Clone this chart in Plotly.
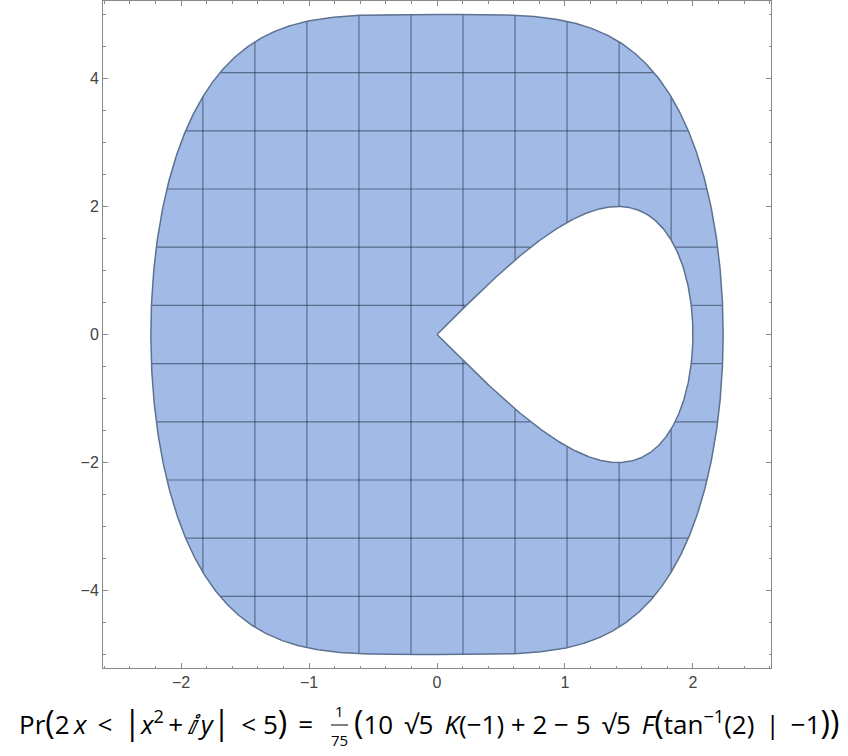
import numpy as np
import plotly.graph_objects as go

# ---- data describing the region  2x < |x^2 + i y| < 5 ----
outer_bound = [5.0]          # |x^2 + i y| < 5
inner_factor = [2.0]         # 2 x < |x^2 + i y|
mesh_divisions = [11]        # mesh cells across bounding box
x_ticks = [-2, -1, 0, 1, 2]
x_tick_text = ["−2", "−1", "0", "1", "2"]
y_ticks = [-4, -2, 0, 2, 4]
y_tick_text = ["−4", "−2", "0", "2", "4"]
x_range = [-2.61, 2.61]
y_range = [-5.21, 5.21]
S = "\u2009"
BIG = "<span style='font-size:32px'>%s</span>"
title_left = ("Pr" + BIG % "(" + "2" + S + "<i>x</i>" + S + " < " + S
              + BIG % "|" + "<i>x</i><sup>2</sup>" + S + "+" + S + "<i>ⅈ</i>" + S + "<i>y</i>"
              + BIG % "|" + S + " < 5" + BIG % ")" + S + " =")
title_num = "1"
title_den = "75"
title_right = (BIG % "(" + "10 " + S + "√5 " + S + "<i>K</i>(−1) + 2 − 5 " + S + "√5 " + S
               + "<i>F</i>" + BIG % "(" + "tan<sup>−1</sup>(2)" + S + " | " + S
               + "−1" + BIG % "))")

R = outer_bound[0]
c = inner_factor[0]

# outer boundary x^4 + y^2 = R^2
t = np.linspace(0, 2 * np.pi, 1201)
ox = np.sign(np.cos(t)) * np.sqrt(R * np.abs(np.cos(t)))
oy = R * np.sin(t)
# inner boundary x^4 + y^2 = c^2 x^2
u = np.linspace(-np.pi / 2, np.pi / 2, 801)
ix = c * np.cos(u)
iy = (c * c / 2) * np.sin(2 * u)

fill_col = "#a1bbe6"
edge_col = "#5d7191"
mesh_col = "rgba(20,30,50,0.5)"

def path_of(xs, ys):
    pts = ["%.5f,%.5f" % (a, b) for a, b in zip(xs, ys)]
    return "M" + "L".join(pts) + "Z"

fig = go.Figure()
fig.add_shape(type="path", xref="x", yref="y",
              path=path_of(ox, oy) + " " + path_of(ix, iy[::-1]),
              fillcolor=fill_col, line=dict(width=0), layer="below",
              fillrule="evenodd")

# mesh lines
xmax = np.sqrt(R)
xm = np.linspace(-xmax, xmax, mesh_divisions[0] + 1)[1:-1]
ym = np.linspace(-R, R, mesh_divisions[0] + 1)[1:-1]
mx, my = [], []
for xv in xm:
    top = np.sqrt(R * R - xv ** 4)
    if 0 < xv < c:
        h = xv * np.sqrt(c * c - xv * xv)
        mx += [xv, xv, None, xv, xv, None]
        my += [-top, -h, None, h, top, None]
    else:
        mx += [xv, xv, None]
        my += [-top, top, None]
for yv in ym:
    xe = (R * R - yv * yv) ** 0.25
    if abs(yv) < c * c / 2:
        d = np.sqrt(c ** 4 / 4 - yv * yv)
        a1 = np.sqrt(c * c / 2 - d)
        a2 = np.sqrt(c * c / 2 + d)
        mx += [-xe, a1, None, a2, xe, None]
        my += [yv, yv, None, yv, yv, None]
    else:
        mx += [-xe, xe, None]
        my += [yv, yv, None]
fig.add_trace(go.Scatter(x=mx, y=my, mode="lines",
                         line=dict(color=mesh_col, width=1.2),
                         hoverinfo="skip", showlegend=False))

# boundaries
fig.add_trace(go.Scatter(x=list(ox) + [None] + list(ix), y=list(oy) + [None] + list(iy),
                         mode="lines", line=dict(color=edge_col, width=1.5),
                         hoverinfo="skip", showlegend=False))

axis_common = dict(showgrid=False, zeroline=False, showline=True, linecolor="#888888",
                   linewidth=1, mirror="allticks", ticks="inside", ticklen=5,
                   tickcolor="#888888", tickfont=dict(family="Liberation Sans", size=16, color="#444444"))
fig.update_xaxes(range=x_range, tickvals=x_ticks, ticktext=x_tick_text,
                 minor=dict(dtick=0.2, tick0=0, ticks="inside", ticklen=2.5, tickcolor="#888888"),
                 **axis_common)
fig.update_yaxes(range=y_range, tickvals=y_ticks, ticktext=y_tick_text,
                 minor=dict(dtick=0.5, tick0=0, ticks="inside", ticklen=2.5, tickcolor="#888888"),
                 **axis_common)

L, Rm, T, B = 103, 77, 1, 88
W, H = 848, 756
pw, ph = W - L - Rm, H - T - B

def px(p):
    return (p - L) / pw

def py(p):
    return (H - B - p) / ph

tf = dict(family="Open Sans", size=26, color="#000000")
fig.add_annotation(text=title_left, xref="paper", yref="paper", x=px(315), y=py(721),
                   xanchor="right", yanchor="middle", showarrow=False, font=tf)
fig.add_annotation(text=title_num, xref="paper", yref="paper", x=px(339), y=py(711),
                   xanchor="center", yanchor="middle", showarrow=False,
                   font=dict(family="Open Sans", size=15, color="#000"))
fig.add_annotation(text=title_den, xref="paper", yref="paper", x=px(339), y=py(740),
                   xanchor="center", yanchor="middle", showarrow=False,
                   font=dict(family="Open Sans", size=15, color="#000"))
fig.add_shape(type="line", xref="paper", yref="paper", x0=px(331), x1=px(348),
              y0=py(725), y1=py(725), line=dict(color="#000", width=1))
fig.add_annotation(text=title_right, xref="paper", yref="paper", x=px(352), y=py(721),
                   xanchor="left", yanchor="middle", showarrow=False, font=tf)

fig.update_layout(width=W, height=H, margin=dict(l=L, r=Rm, t=T, b=B),
                  plot_bgcolor="white", paper_bgcolor="white", showlegend=False)
fig.write_html("out.html", post_script="document.body.style.margin='0px';",
               config={"displayModeBar": False})
